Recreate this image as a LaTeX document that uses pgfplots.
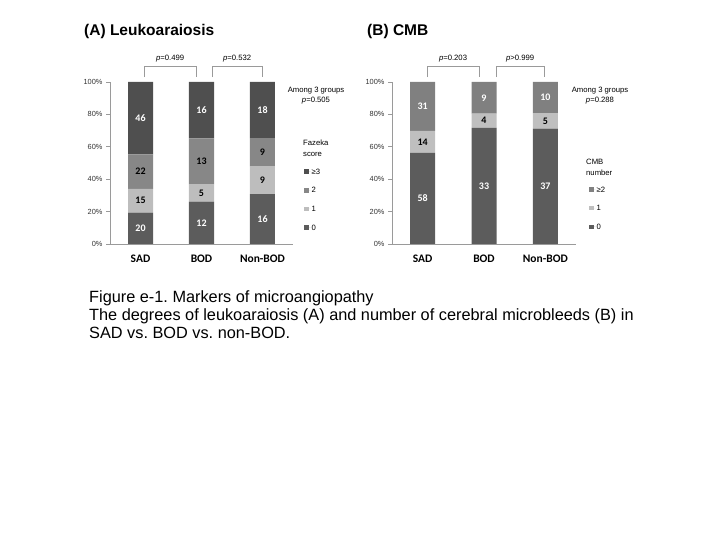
\documentclass[border=0pt]{standalone}
\usepackage{fontspec}
\setmainfont{Liberation Sans}
\newfontfamily\carlito{Carlito}
\usepackage{pgfplots}
\usepackage{pgfplotstable}
\pgfplotsset{compat=1.18}
\frenchspacing

\definecolor{axgray}{HTML}{9A9A9A}
\definecolor{Athree}{HTML}{4F4F4F}
\definecolor{Atwo}{HTML}{878787}
\definecolor{Aone}{HTML}{BDBDBD}
\definecolor{Azero}{HTML}{5C5C5C}
\definecolor{Btwo}{HTML}{808080}
\definecolor{Bone}{HTML}{BFBFBF}
\definecolor{Bzero}{HTML}{5C5C5C}

% percentages (share of group) and counts
\pgfplotstableread{
x p0 p1 p2 p3 n0 n1 n2 n3
1 19.42 14.56 21.36 44.66 20 15 22 46
2 26.09 10.87 28.26 34.78 12 5 13 16
3 30.77 17.31 17.31 34.61 16 9 9 18
}\tabA
\pgfplotstableread{
x p0 p1 p2 n0 n1 n2
1 56.31 13.59 30.10 58 14 31
2 71.74 8.70 19.56 33 4 9
3 71.15 9.62 19.23 37 5 10
}\tabB

\pgfplotsset{
  panel/.style={
    scale only axis, height=162pt,
    ybar stacked, bar width=25pt,
    xmin=0.5, xmax=3.5, ymin=0, ymax=100,
    clip=false,
    axis x line*=bottom, axis y line*=left,
    axis line style={axgray, line width=0.6pt},
    xtick={1,2,3}, xticklabels={SAD,BOD,Non-BOD},
    xticklabel style={font=\carlito\bfseries\fontsize{11.5}{13}\selectfont, text=black, yshift=-3pt},
    major x tick style={draw=none},
    extra x ticks={0.5,1.5,2.5,3.5}, extra x tick labels={},
    extra x tick style={tick align=outside, major tick length=4pt, tick style={axgray, line width=0.6pt}},
    ytick={0,20,40,60,80,100},
    yticklabels={0\%,20\%,40\%,60\%,80\%,100\%},
    yticklabel style={font=\fontsize{7.4}{9}\selectfont, text=black!80},
    tick align=outside, major tick length=4pt,
    y tick style={axgray, line width=0.6pt},
    legend style={draw=none, fill=none, font=\fontsize{7.7}{9}\selectfont,
      inner sep=0pt, row sep=9.6pt, cells={anchor=west},
      nodes={inner sep=1pt, text height=6pt, text depth=1pt}},
    reverse legend, legend cell align=left,
  },
  seg/.style={fill=#1, draw=none,
    legend image code/.code={\fill[##1,draw=none] (0pt,-2.25pt) rectangle (4.5pt,2.25pt);
      \path (0pt,0pt) -- (6.5pt,0pt);},
    point meta=explicit,
    nodes near coords={\pgfmathprintnumber{\pgfplotspointmeta}},
    nodes near coords style={/pgf/number format/assume math mode=true},
    every node near coord/.append style={anchor=center,
      font=\carlito\bfseries\fontsize{10}{11}\selectfont}},
}

\begin{document}
\begin{tikzpicture}[x=1pt,y=1pt]
\path[use as bounding box] (0,0) rectangle (720,540);

% titles
\node[anchor=base west, inner sep=0, font=\bfseries\fontsize{15.5}{18}\selectfont] at (84,504) {(A) Leukoaraiosis};
\node[anchor=base west, inner sep=0, font=\bfseries\fontsize{15.5}{18}\selectfont] at (367,504) {(B) CMB};

% panel A
\begin{axis}[panel, width=183pt, at={(110pt,296pt)}, anchor=south west,
  legend style={at={(axis description cs:1.06,0.475)}, anchor=north west}]
\addplot[seg={Azero}, every node near coord/.append style={text=white}] table[x=x,y=p0,meta=n0] {\tabA};
\addplot[seg={Aone}, every node near coord/.append style={text=black}] table[x=x,y=p1,meta=n1] {\tabA};
\addplot[seg={Atwo}, every node near coord/.append style={text=black}] table[x=x,y=p2,meta=n2] {\tabA};
\addplot[seg={Athree}, every node near coord/.append style={text=white}] table[x=x,y=p3,meta=n3] {\tabA};
\legend{0,1,2,≥3}
\draw[axgray, line width=0.7pt] (axis cs:1.06,103) -- (axis cs:1.06,109.9) -- (axis cs:1.91,109.9) -- (axis cs:1.91,103);
\draw[axgray, line width=0.7pt] (axis cs:2.17,103) -- (axis cs:2.17,109.9) -- (axis cs:3.0,109.9) -- (axis cs:3.0,103);
\node[anchor=base, font=\fontsize{7.7}{9}\selectfont] at (axis cs:1.485,113) {{\itshape p}=0.499};
\node[anchor=base, font=\fontsize{7.7}{9}\selectfont] at (axis cs:2.585,113) {{\itshape p}=0.532};
\end{axis}

% panel B
\begin{axis}[panel, width=184pt, at={(392pt,296pt)}, anchor=south west,
  legend style={at={(axis description cs:1.07,0.365)}, anchor=north west}]
\addplot[seg={Bzero}, every node near coord/.append style={text=white}] table[x=x,y=p0,meta=n0] {\tabB};
\addplot[seg={Bone}, every node near coord/.append style={text=black}] table[x=x,y=p1,meta=n1] {\tabB};
\addplot[seg={Btwo}, every node near coord/.append style={text=white}] table[x=x,y=p2,meta=n2] {\tabB};
\legend{0,1,≥2}
\draw[axgray, line width=0.7pt] (axis cs:1.07,103) -- (axis cs:1.07,109.9) -- (axis cs:1.92,109.9) -- (axis cs:1.92,103);
\draw[axgray, line width=0.7pt] (axis cs:2.2,103) -- (axis cs:2.2,109.9) -- (axis cs:2.98,109.9) -- (axis cs:2.98,103);
\node[anchor=base, font=\fontsize{7.7}{9}\selectfont] at (axis cs:1.495,113) {{\itshape p}=0.203};
\node[anchor=base, font=\fontsize{7.7}{9}\selectfont] at (axis cs:2.59,113) {{\itshape p}>0.999};
\end{axis}

% side annotations (anchor base = baseline of last line)
\node[anchor=base, align=center, inner sep=0, font=\fontsize{7.7}{10}\selectfont] at (316,437) {Among 3 groups\\{\itshape p}=0.505};
\node[anchor=base west, align=left, inner sep=0, font=\fontsize{7.7}{11}\selectfont] at (303,383) {Fazeka\\score};
\node[anchor=base, align=center, inner sep=0, font=\fontsize{7.7}{10}\selectfont] at (600,437) {Among 3 groups\\{\itshape p}=0.288};
\node[anchor=base west, align=left, inner sep=0, font=\fontsize{7.7}{11}\selectfont] at (586,364) {CMB\\number};

% caption
\node[anchor=base west, align=left, inner sep=0, font=\fontsize{16.3}{18}\selectfont] at (89,201)
 {Figure e-1. Markers of microangiopathy\\The degrees of leukoaraiosis (A) and number of cerebral microbleeds (B) in\\SAD vs. BOD vs. non-BOD.};
\end{tikzpicture}
\end{document}
